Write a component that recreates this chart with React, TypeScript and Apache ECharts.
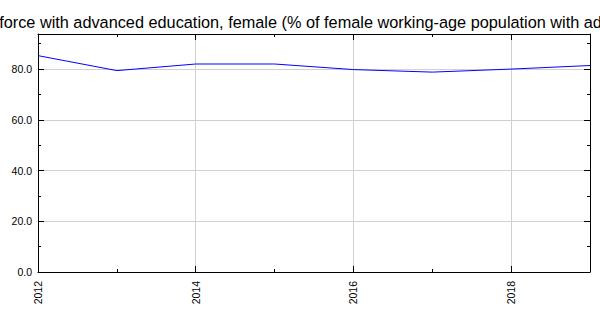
import React, { useEffect, useRef } from "react";
import * as echarts from "echarts";

const years = [2012, 2013, 2014, 2015, 2016, 2017, 2018, 2019];
const values = [85.3, 79.4, 82.0, 82.0, 79.8, 78.8, 80.0, 81.4];
const titleText =
  "Labor force with advanced education, female (% of female working-age population with advanced education)";

export default function App() {
  const ref = useRef<HTMLDivElement>(null);
  useEffect(() => {
    const chart = echarts.init(ref.current!, null, { renderer: "svg" });
    const font = "'Liberation Sans', Arial, sans-serif";
    const yMax = Math.max(...values) * 1.1;
    const black = { color: "#000", width: 1 };
    const grid = { lineStyle: { color: "#d0d0d0", width: 1 } };
    const xBase: any = {
      type: "value",
      min: 2012,
      max: 2019,
      interval: 2,
      axisLine: { show: true, onZero: false, lineStyle: black },
      axisTick: { show: true, inside: true, length: 6, lineStyle: black },
      minorTick: { show: true, splitNumber: 2, length: 3, lineStyle: black },
    };
    const yBase: any = {
      type: "value",
      min: 0,
      max: yMax,
      interval: 20,
      axisLine: { show: true, onZero: false, lineStyle: black },
      axisTick: { show: true, inside: true, length: 6, lineStyle: black },
      minorTick: { show: true, splitNumber: 2, length: 3, lineStyle: black },
    };
    chart.setOption({
      animation: false,
      backgroundColor: "#fff",
      title: {
        text: titleText,
        left: -52,
        top: 9,
        textStyle: { fontFamily: font, fontSize: 16.3, fontWeight: "normal", color: "#000" },
      },
      grid: { left: 38, right: 10, top: 34, bottom: 43, containLabel: false },
      xAxis: [
        {
          ...xBase,
          position: "bottom",
          splitLine: { show: true, ...grid },
          axisLabel: {
            show: true,
            rotate: 90,
            margin: 9,
            showMaxLabel: false,
            fontFamily: font,
            fontSize: 10.5,
            color: "#000",
            formatter: (v: number) => String(v),
          },
        },
        {
          ...xBase,
          position: "top",
          splitLine: { show: false },
          axisLabel: { show: false },
        },
      ],
      yAxis: [
        {
          ...yBase,
          position: "left",
          splitLine: { show: true, ...grid },
          axisLabel: {
            show: true,
            margin: 6,
            showMaxLabel: false,
            fontFamily: font,
            fontSize: 10.5,
            color: "#000",
            formatter: (v: number) => v.toFixed(1),
          },
        },
        {
          ...yBase,
          position: "right",
          splitLine: { show: false },
          axisLabel: { show: false },
        },
      ],
      series: [
        {
          type: "line",
          xAxisIndex: 0,
          yAxisIndex: 0,
          data: years.map((y, i) => [y, values[i]]),
          showSymbol: false,
          symbol: "none",
          lineStyle: { color: "#0000ff", width: 1 },
        },
      ],
    });
    return () => chart.dispose();
  }, []);
  return (
    <div
      ref={ref}
      style={{ position: "fixed", left: 0, top: 0, width: 600, height: 315 }}
    />
  );
}
